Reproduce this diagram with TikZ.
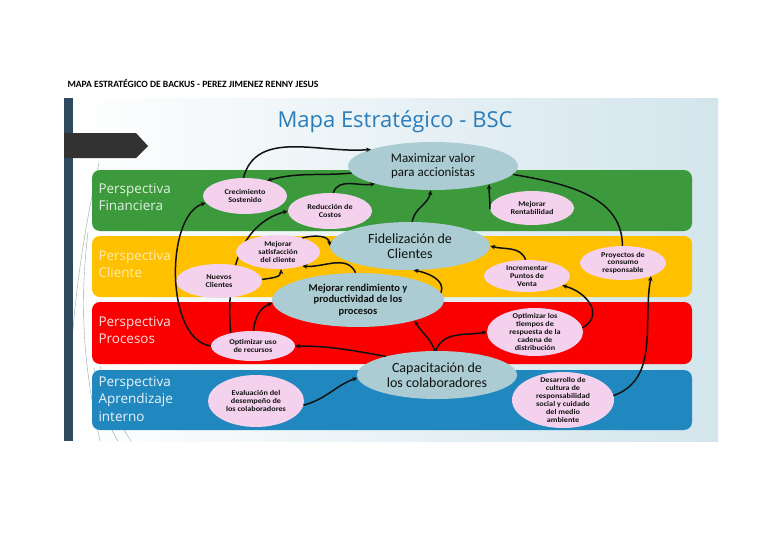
\documentclass[tikz,border=0pt]{standalone}
\usepackage{fontspec}
\setmainfont{Carlito}
\newfontfamily\slidefont{Open Sans}
\newfontfamily\petalfont[FakeStretch=1.12]{Carlito}
\usepackage{tikz}
\usetikzlibrary{arrows.meta,shapes.geometric}
\definecolor{Fin}{HTML}{3C9A3C}
\definecolor{Cli}{HTML}{FFC000}
\definecolor{Proc}{HTML}{FA0000}
\definecolor{Apr}{HTML}{2188BF}
\definecolor{Petal}{HTML}{F4D2EE}
\definecolor{Mist}{HTML}{AACCD2}
\definecolor{Ink}{HTML}{111111}
\definecolor{Mute}{HTML}{5C6670}
\definecolor{Slate}{HTML}{2F4A5E}
\definecolor{Banner}{HTML}{323232}
\definecolor{Sky}{HTML}{D3E5EC}
\definecolor{Head}{HTML}{2A7DBA}
\pgfdeclarelayer{back}
\pgfdeclarelayer{mid}
\pgfsetlayers{back,mid,main}

\begin{document}
\begin{tikzpicture}[x=1pt,y=-1pt,
  band/.style={rounded corners=8pt},
  persp/.style={anchor=north west,align=left,font=\slidefont\fontsize{13.5}{17.5}\selectfont},
  petal/.style={ellipse,fill=Petal,inner sep=0pt,align=center,text=Ink,
    font=\petalfont\fontsize{7.3}{7.9}\selectfont\bfseries},
  mist/.style={ellipse,fill=Mist,inner sep=0pt,align=center,text=Ink},
  flow/.style={Ink,line width=1.5pt,-{Stealth[length=5pt,width=4.5pt]}}]
  \useasboundingbox (0,0) rectangle (768,543);
  \node[anchor=base west,font=\fontsize{9.6}{11}\selectfont\bfseries] (head) at (64,88)
    {MAPA ESTRATÉGICO DE BACKUS - PEREZ JIMENEZ RENNY JESUS};
  % slide background
  \begin{pgfonlayer}{back}
    \fill[white] (0,0) rectangle (768,543);
    \shade[left color=white,right color=Sky] (64,98) rectangle (718,441);
    \fill[Slate] (64,98) rectangle (73,441);
    \fill[Banner] (64,133) -- (136,133) -- (148,146) -- (136,158) -- (64,158) -- cycle;
    \draw[Mute!60,line width=0.4pt] (99,163) .. controls (86,220) and (77,280) .. (73,330);
    \draw[Mute!60,line width=0.4pt] (100,366) .. controls (108,400) and (118,422) .. (131,441);
    \draw[Mute!60,line width=0.4pt] (94,368) .. controls (100,400) and (108,425) .. (118,441);
    \draw[Mute!60,line width=0.4pt] (88,232) .. controls (80,300) and (82,360) .. (100,441);
    \fill[Fin,band]  (92,170) rectangle (692,231);
    \fill[Cli,band]  (92,236) rectangle (692,297);
    \fill[Proc,band] (92,302) rectangle (692,364);
    \fill[Apr,band]  (92,370) rectangle (692,430);
  \end{pgfonlayer}
  \node[anchor=base,font=\slidefont\fontsize{22}{26}\selectfont,text=Head] (title) at (395,127)
    {Mapa Estratégico - BSC};
  \node[persp,text=Fin!15] (pfin) at (95,180) {Perspectiva\\Financiera};
  \node[persp,text=Cli!30] (pcli) at (95,247) {Perspectiva\\Cliente};
  \node[persp,text=Proc!12] (ppro) at (95,313) {Perspectiva\\Procesos};
  \node[persp,text=Apr!10] (papr) at (95,373) {Perspectiva\\Aprendizaje\\interno};
  % objetivos
  \node[mist,minimum width=170pt,minimum height=48pt,font=\fontsize{13}{14}\selectfont] (maxv) at (433,166)
    {Maximizar valor\\para accionistas};
  \node[mist,minimum width=160pt,minimum height=48pt,font=\fontsize{14}{15}\selectfont] (fide) at (410,246)
    {Fidelización de\\Clientes};
  \node[mist,minimum width=172pt,minimum height=54pt,font=\fontsize{10.5}{11.5}\selectfont\bfseries] (rend) at (358,300)
    {Mejorar rendimiento y\\productividad de los\\procesos};
  \node[mist,minimum width=160pt,minimum height=48pt,font=\fontsize{14}{15}\selectfont] (capa) at (437,375)
    {Capacitación de\\los colaboradores};
  \node[petal,minimum width=84pt,minimum height=36pt] (crec) at (245,196) {Crecimiento\\Sostenido};
  \node[petal,minimum width=84pt,minimum height=36pt] (redu) at (330,211) {Reducción de\\Costos};
  \node[petal,minimum width=84pt,minimum height=34pt] (rent) at (532,208) {Mejorar\\Rentabilidad};
  \node[petal,minimum width=84pt,minimum height=34pt,inner ysep=-1pt] (satis) at (278,252) {Mejorar\\satisfacción\\del cliente};
  \node[petal,minimum width=86pt,minimum height=34pt] (nuevo) at (219,281) {Nuevos\\Clientes};
  \node[petal,minimum width=86pt,minimum height=32pt,inner ysep=-1pt] (incre) at (527,276) {Incrementar\\Puntos de\\Venta};
  \node[petal,minimum width=86pt,minimum height=34pt,inner ysep=-1pt] (proy) at (623,263) {Proyectos de\\consumo\\responsable};
  \node[petal,minimum width=84pt,minimum height=30pt] (optu) at (253,346) {Optimizar uso\\de recursos};
  \node[petal,minimum width=96pt,minimum height=48pt,inner ysep=-4pt] (optt) at (535,332)
    {Optimizar los\\tiempos de\\respuesta de la\\cadena de\\distribución};
  \node[petal,minimum width=96pt,minimum height=52pt] (eval) at (256,401)
    {Evaluación del\\desempeño de\\los colaboradores};
  \node[petal,minimum width=102pt,minimum height=56pt,inner ysep=-6pt] (desa) at (563,400)
    {Desarrollo de\\cultura de\\responsabilidad\\social y cuidado\\del medio\\ambiente};
  % relaciones
  \begin{pgfonlayer}{mid}
    \draw[flow] (optu.150) to[out=95,in=195] (redu.west);
  \end{pgfonlayer}
  \foreach \a/\b/\o/\i in {
    crec.95/maxv.165/75/185,
    maxv.185/crec.35/185/15,
    redu.80/maxv.197/70/190,
    fide.85/maxv.265/80/260,
    rent.182/maxv.342/90/270,
    nuevo.2/satis.280/10/270,
    satis.30/fide.180/15/95,
    rend.95/satis.330/115/-5,
    optu.88/rend.182/85/200,
    capa.160/optu.east/170/0,
    capa.95/rend.340/110/-60,
    capa.93/optt.west/70/190,
    eval.355/capa.182/15/200,
    rend.5/fide.278/70/-10,
    incre.95/fide.east/110/-15,
    desa.5/proy.335/20/-100} {
    \draw[flow] (\a) to[out=\o,in=\i] (\b);
  }
  \draw[flow] (optu.west) .. controls (165,340) and (165,215) .. (crec.190);
  \draw[flow] (optt.5) to[out=30,in=-15,looseness=1.4] (incre.345);
  \draw[Ink,line width=1.5pt] (maxv.354) to[out=-10,in=90] (proy.92);
\end{tikzpicture}
\end{document}
